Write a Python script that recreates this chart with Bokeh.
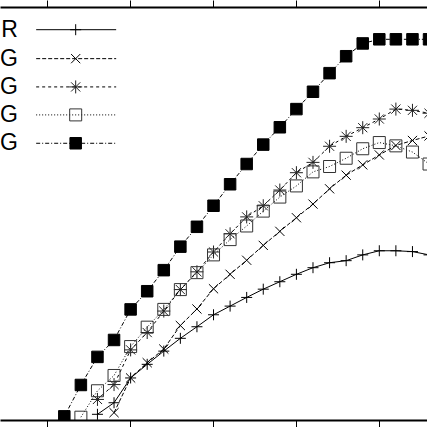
from bokeh.plotting import figure
from bokeh.models import Range1d, LinearAxis, FixedTicker
from bokeh.embed import file_html
from bokeh.resources import INLINE
from bokeh.core.properties import value

# ---------------- data ----------------
x_ticks = [0, 5, 10, 15, 20]

x_R = list(range(3, 24))
y_R = [1.5, 4.3, 10.3, 13.6, 16.8, 19.9, 22.7, 25.6, 27.7, 29.8, 31.8,
       33.6, 35.4, 37.0, 38.2, 38.7, 40.1, 41.1, 41.1, 40.9, 40.1]

x_G1 = list(range(4, 24))
y_G1 = [1.9, 10.3, 14.0, 17.3, 23.0, 27.0, 31.9, 35.4, 38.8, 42.4, 45.8,
        49.1, 52.4, 56.1, 59.4, 61.9, 64.3, 66.6, 67.8, 68.9]

x_G2 = list(range(3, 24))
y_G2 = [5.1, 8.7, 17.1, 21.3, 26.5, 31.7, 36.0, 40.8, 45.2, 49.3, 52.0,
        55.8, 60.0, 62.5, 66.4, 68.8, 70.9, 73.0, 75.4, 75.1, 74.4]

x_G3 = list(range(2, 24))
y_G3 = [0.8, 7.2, 10.9, 17.9, 22.6, 26.9, 31.7, 35.8, 40.1, 43.8, 47.1,
        50.7, 54.1, 56.8, 60.2, 61.5, 63.5, 65.8, 67.3, 66.5, 65.0, 62.1]

x_G4 = list(range(1, 24))
y_G4 = [1.0, 8.6, 15.4, 19.5, 26.9, 31.3, 36.4, 42.1, 46.9, 52.0, 57.2,
        62.1, 66.8, 71.0, 75.4, 79.6, 84.1, 88.2, 91.3, 92.3, 92.3, 92.3, 92.3]

labels = ["R", "G", "G", "G", "G"]

# ---------------- layout helpers (reference pixel -> data) ----------------
def px_x(X):
    return (X - 49.0) / 17.2

def px_y(Y):
    return (435.0 - Y) / 4.28

p = figure(width=427, height=427, output_backend="svg", toolbar_location=None,
           x_axis_type=None, y_axis_type=None,
           x_range=Range1d(px_x(0), px_x(443)), y_range=Range1d(0, 100),
           min_border=0, min_border_left=0, min_border_right=0,
           min_border_top=0, min_border_bottom=0)
p.outline_line_color = None
p.background_fill_color = "white"
p.border_fill_color = "white"

for loc in ("above", "below"):
    ax = LinearAxis(ticker=FixedTicker(ticks=x_ticks))
    ax.axis_line_width = 2
    ax.axis_line_color = "black"
    ax.major_tick_line_color = "black"
    ax.major_tick_line_width = 1
    ax.major_tick_in = 0
    ax.major_tick_out = 7
    ax.minor_tick_in = 0
    ax.minor_tick_out = 0
    ax.major_label_text_font_size = "0px"
    ax.major_label_standoff = 0
    ax.major_label_text_color = None
    p.add_layout(ax, loc)

series = [
    dict(x=x_R, y=y_R, dash="solid", marker="cross", size=11, fill=None, lc="black"),
    dict(x=x_G1, y=y_G1, dash="4 2", marker="x", size=13, fill=None, lc="black"),
    dict(x=x_G2, y=y_G2, dash="3 3", marker="asterisk", size=13, fill=None, lc="#222222"),
    dict(x=x_G3, y=y_G3, dash="1 2", marker="square", size=12, fill=None, lc="#333333"),
    dict(x=x_G4, y=y_G4, dash="4 2 1 2", marker="square", size=11.5, fill="black", lc="black"),
]

for s in series:
    p.line(s["x"], s["y"], line_color="black", line_width=1, line_dash=s["dash"])
    p.scatter(s["x"], s["y"], marker=s["marker"], size=s["size"],
              line_color=s["lc"], line_width=1,
              fill_color=s["fill"] if s["fill"] else None)

# ---------------- legend (drawn by hand: label left of sample) ----------------
rows = [30, 60, 89.3, 118.3, 147.7]
p.text(x=[px_x(18)] * 5, y=[px_y(r - 1) for r in rows], text=labels,
       text_align="right", text_baseline="middle",
       text_font=value("Liberation Sans"), text_font_size="23px", text_color="black")
for s, r in zip(series, rows):
    p.line([px_x(37), px_x(120)], [px_y(r), px_y(r)], line_color="black",
           line_width=1, line_dash=s["dash"])
    p.scatter([px_x(78)], [px_y(r)], marker=s["marker"], size=s["size"],
              line_color=s["lc"], line_width=1,
              fill_color=s["fill"] if s["fill"] else None)

open("out.html", "w").write(file_html(p, INLINE))
